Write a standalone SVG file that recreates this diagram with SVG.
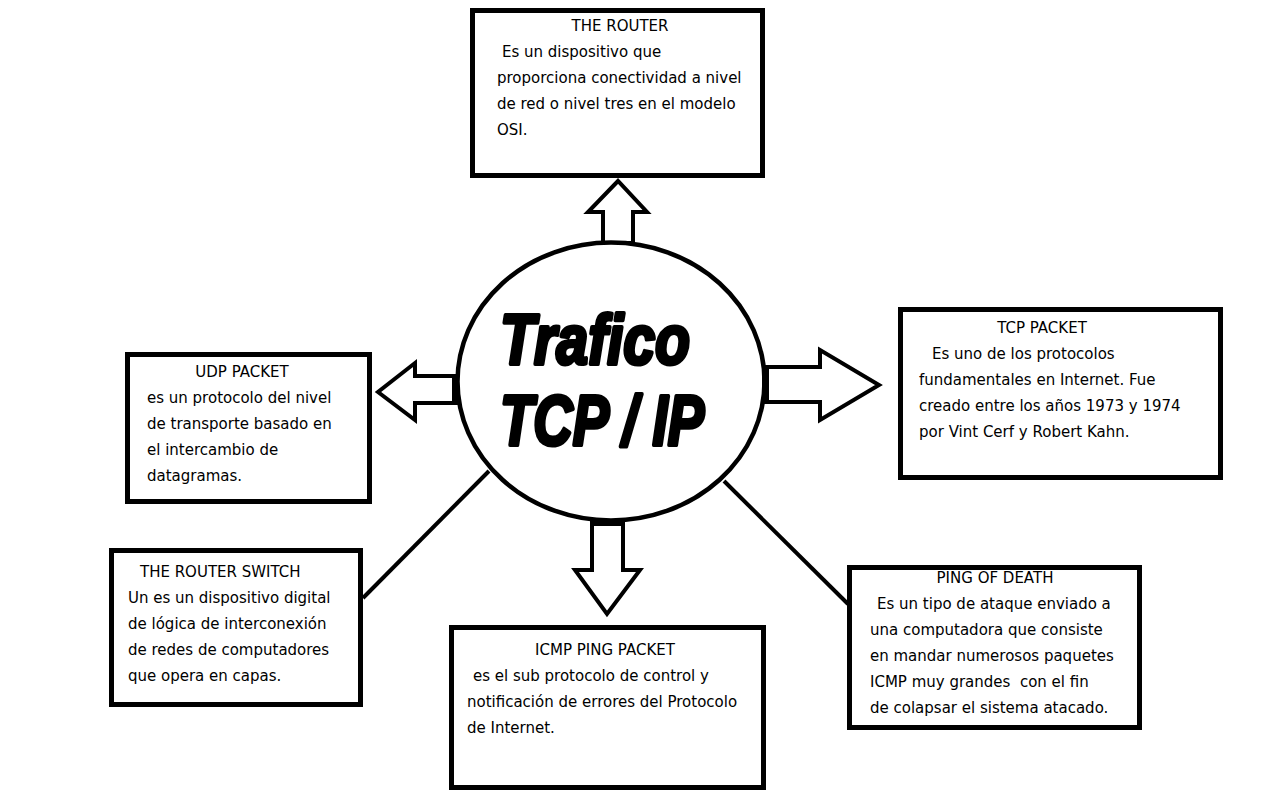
<svg xmlns="http://www.w3.org/2000/svg" width="1274" height="802" viewBox="0 0 1274 802">
<style>
.box{fill:#fff;stroke:#000;stroke-width:5}
.arr{fill:#fff;stroke:#000;stroke-width:4;stroke-linejoin:miter}
.ln{stroke:#000;stroke-width:4;fill:none}
.t{font-family:"DejaVu Sans","Liberation Sans",Arial,sans-serif;font-size:15px;fill:#000}
.c{text-anchor:middle}
.big{font-family:"Liberation Sans",Arial,sans-serif;font-size:70px;font-weight:bold;font-style:italic;fill:#000;stroke:#000;stroke-width:4;stroke-linejoin:round}
</style>
<rect width="1274" height="802" fill="#fff"/>
<g id="connectors">
<line class="ln" x1="489" y1="471" x2="363" y2="598"/>
<line class="ln" x1="724" y1="481" x2="848" y2="604"/>
<polygon class="arr" points="603,243 603,212 588,212 618,181 647,212 633,212 633,243"/>
<polygon class="arr" points="762,367 820,367 820,350 879,385 820,420 820,402 762,402"/>
<polygon class="arr" points="459,376 415,376 415,363 378,392 415,420 415,403 459,403"/>
<polygon class="arr" points="592,518 592,570 575,570 607,614 640,570 623,570 623,518"/>
</g>
<g id="center">
<ellipse cx="611" cy="381.5" rx="153.5" ry="139" fill="#fff" stroke="#000" stroke-width="4.5"/>
<rect x="762" y="367" width="7" height="35" fill="#000"/>
<rect x="452" y="376" width="6" height="27" fill="#000"/>
<rect x="592" y="519" width="31" height="7" fill="#000"/>
<text class="big" x="500" y="364" textLength="190" lengthAdjust="spacingAndGlyphs">Trafico</text>
<text class="big" x="500" y="445" textLength="204" lengthAdjust="spacingAndGlyphs">TCP / IP</text>
</g>
<g id="router">
<rect class="box" x="472.5" y="10.5" width="290" height="165"/>
<text class="t c" x="620" y="31">THE ROUTER</text>
<text class="t" x="502" y="57">Es un dispositivo que</text>
<text class="t" x="497" y="83">proporciona conectividad a nivel</text>
<text class="t" x="497" y="109">de red o nivel tres en el modelo</text>
<text class="t" x="497" y="135">OSI.</text>
</g>
<g id="udp">
<rect class="box" x="127.5" y="354.5" width="242" height="147"/>
<text class="t c" x="242" y="377">UDP PACKET</text>
<text class="t" x="147" y="403">es un protocolo del nivel</text>
<text class="t" x="147" y="429">de transporte basado en</text>
<text class="t" x="147" y="455">el intercambio de</text>
<text class="t" x="147" y="481">datagramas.</text>
</g>
<g id="switch">
<rect class="box" x="111.5" y="550.5" width="249" height="154"/>
<text class="t" x="140" y="577">THE ROUTER SWITCH</text>
<text class="t" x="128" y="603">Un es un dispositivo digital</text>
<text class="t" x="128" y="629">de lógica de interconexión</text>
<text class="t" x="128" y="655">de redes de computadores</text>
<text class="t" x="128" y="681">que opera en capas.</text>
</g>
<g id="tcp">
<rect class="box" x="900.5" y="309.5" width="320" height="168"/>
<text class="t c" x="1042" y="333">TCP PACKET</text>
<text class="t" x="932" y="359">Es uno de los protocolos</text>
<text class="t" x="919" y="385">fundamentales en Internet. Fue</text>
<text class="t" x="919" y="411">creado entre los años 1973 y 1974</text>
<text class="t" x="919" y="437">por Vint Cerf y Robert Kahn.</text>
</g>
<g id="ping">
<rect class="box" x="849.5" y="567.5" width="290" height="160"/>
<text class="t c" x="995" y="583">PING OF DEATH</text>
<text class="t" x="877" y="609">Es un tipo de ataque enviado a</text>
<text class="t" x="870" y="635">una computadora que consiste</text>
<text class="t" x="870" y="661">en mandar numerosos paquetes</text>
<text class="t" x="870" y="687" xml:space="preserve">ICMP muy grandes  con el fin</text>
<text class="t" x="870" y="713">de colapsar el sistema atacado.</text>
</g>
<g id="icmp">
<rect class="box" x="451.5" y="627.5" width="312" height="160"/>
<text class="t c" x="605" y="655">ICMP PING PACKET</text>
<text class="t" x="473" y="681">es el sub protocolo de control y</text>
<text class="t" x="467" y="707">notificación de errores del Protocolo</text>
<text class="t" x="467" y="733">de Internet.</text>
</g>
</svg>
